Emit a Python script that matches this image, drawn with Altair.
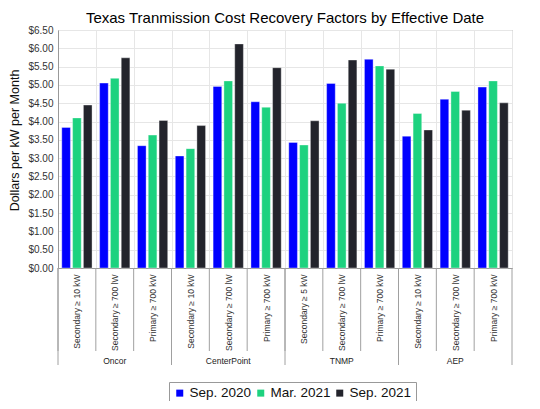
import altair as alt
import pandas as pd

# chart values
groups = ["Oncor", "CenterPoint", "TNMP", "AEP"]
classes = [
    ["Secondary ≥ 10 kW", "Secondary ≥ 700 lW", "Primary ≥ 700 kW"],
    ["Secondary ≥ 10 kW", "Secondary ≥ 700 lW", "Primary ≥ 700 kW"],
    ["Secondary ≥ 5 kW", "Secondary ≥ 700 lW", "Primary ≥ 700 kW"],
    ["Secondary ≥ 10 kW", "Secondary ≥ 700 lW", "Primary ≥ 700 kW"],
]
series_names = ["Sep. 2020", "Mar. 2021", "Sep. 2021"]
sep2020 = [3.84, 5.05, 3.34, 3.06, 4.96, 4.54, 3.43, 5.04, 5.70, 3.60, 4.61, 4.94]
mar2021 = [4.10, 5.18, 3.63, 3.26, 5.11, 4.39, 3.36, 4.50, 5.52, 4.22, 4.82, 5.11]
sep2021 = [4.45, 5.74, 4.03, 3.89, 6.12, 5.47, 4.02, 5.68, 5.43, 3.77, 4.31, 4.51]
series_colors = ["#0000ff", "#1dd27f", "#23242c"]
y_ticks = [i * 0.5 for i in range(14)]

W = 454
H = 238
FONT = "Liberation Sans"

keys = []
for g, cl in zip(groups, classes):
    for c in cl:
        keys.append(g + "|" + c)

rows = []
for name, vals in zip(series_names, [sep2020, mar2021, sep2021]):
    for k, v in zip(keys, vals):
        rows.append({"key": k, "series": name, "value": v})
df = pd.DataFrame(rows)

cats = pd.DataFrame({"key": keys})
group_df = pd.DataFrame({
    "group": groups,
    "first": [keys[i * 3] for i in range(4)],
    "mid": [keys[i * 3 + 1] for i in range(4)],
})
last_df = pd.DataFrame({"key": [keys[-1]]})

x_scale = alt.Scale(domain=keys, paddingInner=0, paddingOuter=0)

bars = alt.Chart(df).mark_bar(stroke="white", strokeWidth=0.6, strokeOpacity=0.6).encode(
    x=alt.X("key:N", title=None, scale=x_scale,
            axis=alt.Axis(labelExpr="split(datum.label, '|')[1]", labelAngle=-90,
                          labelFontSize=8.5, labelColor="#333", labelPadding=6,
                          ticks=False, grid=True, tickBand="extent",
                          gridColor="#e6e6e6", domainColor="#999")),
    xOffset=alt.XOffset("series:N", sort=series_names,
                        scale=alt.Scale(paddingInner=0.2, paddingOuter=0.35)),
    y=alt.Y("value:Q", title="Dollars per kW per Month",
            scale=alt.Scale(domain=[0, 6.5], nice=False),
            axis=alt.Axis(values=y_ticks, format="$.2f", ticks=False, labelFontSize=10,
                          labelColor="#333", labelPadding=5, gridColor="#e6e6e6",
                          domainColor="#999", titleFontSize=12.5, titleFontWeight="normal",
                          titleColor="#111", titlePadding=6, titleY=110)),
    color=alt.Color("series:N", sort=series_names,
                    scale=alt.Scale(domain=series_names, range=series_colors),
                    legend=alt.Legend(title=None, orient="none", legendX=111, legendY=352,
                                      direction="horizontal", columns=3, symbolType="square",
                                      symbolSize=49, symbolStrokeWidth=0, labelFontSize=13.5,
                                      labelColor="#111", labelOffset=3, columnPadding=2,
                                      padding=4, strokeColor="#999", fillColor="white")),
)

cat_lines = alt.Chart(cats).mark_rule(color="#a0a0a0").encode(
    x=alt.X("key:N", title=None, scale=x_scale, bandPosition=0),
    y=alt.value(H),
    y2=alt.value(H + 83),
)

group_lines = alt.Chart(group_df).mark_rule(color="#a0a0a0").encode(
    x=alt.X("first:N", title=None, scale=x_scale, bandPosition=0),
    y=alt.value(H),
    y2=alt.value(H + 97),
)

end_line = alt.Chart(last_df).mark_rule(color="#a0a0a0").encode(
    x=alt.X("key:N", title=None, scale=x_scale, bandPosition=1),
    y=alt.value(H),
    y2=alt.value(H + 97),
)

group_text = alt.Chart(group_df).mark_text(fontSize=8.5, color="#222", baseline="middle").encode(
    x=alt.X("mid:N", title=None, scale=x_scale),
    y=alt.value(H + 93),
    text="group:N",
)

chart = alt.layer(bars, cat_lines, group_lines, end_line, group_text).properties(
    width=W,
    height=H,
    autosize=alt.AutoSizeParams(type="none"),
    padding={"left": 50, "top": 22, "right": 20, "bottom": 133},
    title=alt.TitleParams("Texas Tranmission Cost Recovery Factors by Effective Date",
                          fontSize=15, fontWeight="normal", color="#000", anchor="middle",
                          offset=-1),
).configure(font=FONT).configure_view(stroke="#999")

chart.save("out.html", embed_options={"renderer": "svg", "actions": False})
